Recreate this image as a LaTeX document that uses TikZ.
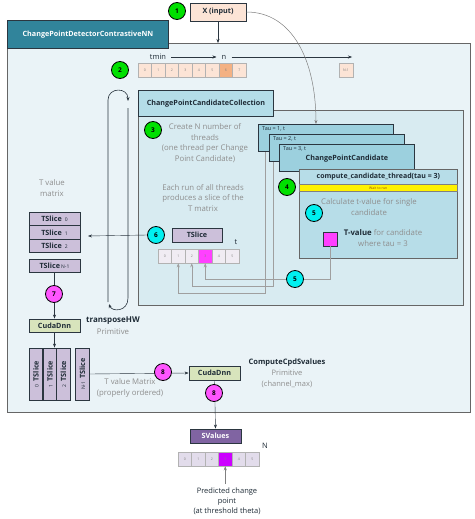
\documentclass[tikz,border=0pt]{standalone}
\usepackage{fontspec}
\setmainfont{Open Sans}
\usetikzlibrary{arrows.meta}
\definecolor{mainbg}{HTML}{EAF3F7}
\definecolor{collbg}{HTML}{D8EBF1}
\definecolor{titleteal}{HTML}{31849B}
\definecolor{collhead}{HTML}{B4DDE8}
\definecolor{taufill}{HTML}{9CD0DE}
\definecolor{threadfill}{HTML}{B7DDE8}
\definecolor{peach}{HTML}{FCE4D6}
\definecolor{peachdark}{HTML}{F4B183}
\definecolor{lilac}{HTML}{CCC0DA}
\definecolor{svaluefill}{HTML}{8064A2}
\definecolor{cudagreen}{HTML}{D8E4BC}
\definecolor{graytext}{HTML}{8E8E8E}
\definecolor{darktext}{HTML}{1E2B36}
\definecolor{darkline}{HTML}{2B3640}
\definecolor{cellpale}{HTML}{F0ECF3}
\definecolor{scellpale}{HTML}{E2DCEB}
\definecolor{magentacell}{HTML}{FF40FF}
\definecolor{purplecell}{HTML}{CC00FF}
\definecolor{numgreen}{HTML}{00E000}
\definecolor{numcyan}{HTML}{00F0F0}
\definecolor{nummagenta}{HTML}{FF55FF}
\begin{document}
\begin{tikzpicture}[x=1pt, y=-1pt, >={Stealth[length=4pt,width=3pt]},
    panel/.style={draw=gray!80!black, line width=.6pt, inner sep=0pt, anchor=north west},
    box/.style={draw=darkline, line width=.9pt, inner sep=0pt, text=darktext, font=\bfseries\fontsize{7.2}{8}\selectfont},
    num/.style={circle, draw=black, line width=.8pt, minimum size=17pt, inner sep=0pt, font=\bfseries\fontsize{6.5}{7}\selectfont},
    cell/.style={draw=gray!60, line width=.5pt, minimum width=13.5pt, minimum height=14pt, inner sep=0pt, text=gray, font=\fontsize{3.5}{4}\selectfont},
    note/.style={text=graytext, align=center, font=\fontsize{7.8}{10.5}\selectfont},
    taulabel/.style={anchor=north west, inner sep=0pt, text=darktext, font=\fontsize{5.5}{6}\selectfont},
    link/.style={draw=gray!75, line width=.5pt},
    loopline/.style={draw=darkline, line width=.6pt, ->},
  ]
  \useasboundingbox (0,0) rectangle (474,519);
  % outer detector
  \node[panel, fill=mainbg, minimum width=463pt, minimum height=369pt] (main) at (7,43) {};
  \node[box, fill=titleteal, text=white, anchor=north west, minimum width=161pt, minimum height=28pt] (detector) at (7,20) {ChangePointDetectorContrastiveNN};
  \node[box, fill=peach, minimum width=56pt, minimum height=18pt] (input) at (218,12) {X (input)};
  \node[num, fill=numgreen] (n1) at (177,11) {1};
  \draw[->, darkline] (input.south) -- (input.south |- main.north);
  % input series
  \node[num, fill=numgreen] (n2) at (120,70) {2};
  \foreach \i/\c in {0/peach,1/peach,2/peach,3/peach,4/peach,5/peach,6/peachdark,7/peach}{
    \node[cell, fill=\c] (x\i) at (144.75+13.5*\i,70) {\i};
  }
  \node[cell, fill=peach] (xlast) at (346,70) {N-1};
  \node[inner sep=1pt, text=darktext, font=\fontsize{7.5}{8}\selectfont] (tmin) at (158,57) {tmin};
  \node[inner sep=1pt, text=darktext, font=\fontsize{7.5}{8}\selectfont] (n) at (224,57) {n};
  \coordinate (nend) at (352,57);
  \draw[->, darkline] ([xshift=4pt]tmin.east) -- ([xshift=-4pt]n.west);
  \draw[->, darkline] ([xshift=4pt]n.east) -- (nend);
  % candidate collection
  \node[panel, fill=collbg, minimum width=325pt, minimum height=195pt] (coll) at (138,110) {};
  \node[box, fill=collhead, anchor=north west, minimum width=135pt, minimum height=26pt] (colltitle) at (138,90) {ChangePointCandidateCollection};
  \node[num, fill=numgreen] (n3) at (153,130) {3};
  \node[note] (create) at (205,143) {Create N number of\\threads\\(one thread per Change\\Point Candidate)};
  \node[note] (eachrun) at (203,198) {Each run of all threads\\produces a slice of the\\T matrix};
  % candidates
  \node[box, fill=taufill, anchor=north west, minimum width=135pt, minimum height=27pt] (tau1) at (258,124) {};
  \node[taulabel] at ([shift={(4,2)}]tau1.north west) {Tau = 1, t};
  \node[box, fill=taufill, anchor=north west, minimum width=135pt, minimum height=27pt] (tau2) at (269,134) {};
  \node[taulabel] at ([shift={(4,2)}]tau2.north west) {Tau = 2, t};
  \node[box, fill=taufill, anchor=north west, minimum width=135pt, minimum height=27pt, text depth=-6pt] (tau3) at (279,144) {ChangePointCandidate};
  \node[taulabel] at ([shift={(4,2)}]tau3.north west) {Tau = 3, t};
  \draw[link, ->, draw=gray] (input.east) .. controls (292,12) and (316,60) .. ([xshift=-10pt]tau1.north);
  % thread
  \node[panel, fill=threadfill, minimum width=158pt, minimum height=89pt] (thread) at (299,169) {};
  \node[anchor=north, inner sep=0pt, text=darktext, font=\bfseries\fontsize{7}{8}\selectfont] (threadname) at ([yshift=-4pt]thread.north) {compute\_candidate\_thread(tau = 3)};
  \node[panel, fill=yellow, draw=gray, minimum width=158pt, minimum height=7pt, text=orange!60!black, font=\fontsize{3.5}{4}\selectfont] (waitbar) at (299,184) {\makebox[158pt]{Wait to run}};
  \node[num, fill=numgreen] (n4) at (287,187) {4};
  \node[num, fill=numcyan] (n5) at (314,213) {5};
  \node[note] (calc) at (369,207) {Calculate t-value for single\\candidate};
  \node[draw=darkline, line width=.6pt, fill=magentacell, minimum size=14pt, inner sep=0pt] (tval) at (330,239) {};
  \node[note] (tvaltext) at (383,238) {{\color{darktext}\bfseries T-value} for candidate\\where tau = 3};
  % slice of T
  \node[box, fill=lilac, minimum width=50pt, minimum height=14pt] (tslice) at (197,235) {TSlice};
  \node[num, fill=numcyan] (n6) at (156,235) {6};
  \node[inner sep=0pt, text=darktext, font=\fontsize{7.5}{8}\selectfont] (tlab) at (236,242) {t};
  \foreach \i/\c in {0/cellpale,1/cellpale,2/cellpale,3/magentacell,4/cellpale,5/cellpale}{
    \node[cell, fill=\c] (t\i) at (164.75+13.5*\i,256) {\i};
  }
  \draw[link] (tval.south) |- (295,279);
  \node[num, fill=numcyan] (n5b) at (295,279) {5};
  \draw[link, ->] (n5b.west) -| (t3.south);
  \draw[link, ->] ([xshift=4pt]tau2.south west) -- ++(0,124) -| (t2.south);
  \draw[link, ->] ([xshift=7pt]tau1.south west) -- ++(0,141) -| (t1.south);
  \coordinate (stackin) at (88,236);
  \draw[->, darkline] (n6.west) -- (stackin);
  % transposeHW loop
  \draw[loopline] (108,302) -- (108,100) .. controls (108,87) and (128,87) .. (128,101);
  \draw[loopline] (128,108) -- (128,298) .. controls (128,312) and (112,312) .. (109,304);
  \node[inner sep=0pt, text=darktext, font=\bfseries\fontsize{8}{9}\selectfont] (transpose) at (113,321) {transposeHW};
  \node[inner sep=0pt, text=graytext, font=\fontsize{7.8}{9}\selectfont] (transprim) at (113,332) {Primitive};
  % T value matrix
  \node[note] (tmatrix) at (52,188) {T value\\matrix};
  \foreach \i/\y in {0/219,1/232.3,2/245.6}{
    \node[box, fill=lilac, minimum width=51pt, minimum height=13.3pt] (ts\i) at (54.5,\y) {TSlice\, {\mdseries\fontsize{5}{6}\selectfont\i}};
  }
  \node[box, fill=lilac, minimum width=51pt, minimum height=13.3pt] (tsn) at (54.5,266) {TSlice\,{\mdseries\fontsize{5}{6}\selectfont N-1}};
  \node[box, fill=cudagreen, minimum width=51pt, minimum height=13pt] (cuda1) at (54.5,325.5) {CudaDnn};
  \draw[->, darkline] (tsn.south) -- (cuda1.north);
  \node[num, fill=nummagenta] (n7) at (54,294) {7};
  \foreach \i/\x in {0/36,1/50,2/63.5}{
    \node[box, fill=lilac, rotate=90, minimum width=52pt, minimum height=13.5pt] (r\i) at (\x,374) {{\mdseries\fontsize{5}{6}\selectfont\i}\, TSlice};
  }
  \node[box, fill=lilac, rotate=90, minimum width=52pt, minimum height=13.5pt] (rn) at (82.5,374) {{\mdseries\fontsize{5}{6}\selectfont N-1}\, TSlice};
  \draw[->, darkline] (cuda1.south) -- (cuda1.south |- r1.east);
  % ComputeCpdSvalues
  \node[box, fill=cudagreen, minimum width=51pt, minimum height=14pt] (cuda2) at (214.5,373) {CudaDnn};
  \draw[->, darkline] (rn.south) -- (cuda2.west);
  \node[num, fill=nummagenta] (n8) at (163,372) {8};
  \node[note] (ordered) at (130,388) {T value Matrix\\(properly ordered)};
  \node[note, font=\fontsize{7.5}{11}\selectfont] (cpd) at (287,373) {{\color{darktext}\bfseries ComputeCpdSvalues}\\Primitive\\(channel\_max)};
  \node[box, fill=svaluefill, text=white, minimum width=51pt, minimum height=14pt] (svalues) at (215.5,436) {SValues};
  \draw[->, darkline] (cuda2.south) -- (svalues.north);
  \node[num, fill=nummagenta] (n8b) at (214,393) {8};
  \node[inner sep=0pt, text=darktext, font=\fontsize{7.5}{8}\selectfont] (nlab) at (265,446) {N};
  \foreach \i/\c in {0/scellpale,1/scellpale,2/scellpale,3/purplecell,4/scellpale,5/scellpale}{
    \node[cell, fill=\c] (s\i) at (184.75+13.5*\i,459) {\i};
  }
  \node[text=darktext, align=center, font=\fontsize{7.5}{10}\selectfont] (predicted) at (227,501) {Predicted change\\point\\(at threshold theta)};
  \draw[->, gray] (s3.south |- predicted.north) -- (s3.south);
\end{tikzpicture}
\end{document}
